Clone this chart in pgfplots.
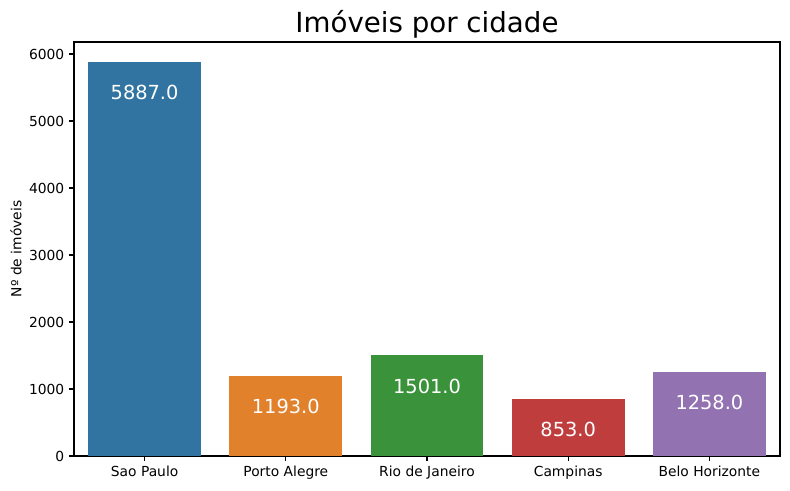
\documentclass[border=0pt]{standalone}
\usepackage{pgfplots}
\pgfplotsset{compat=1.18}
\usepackage{fontspec}
\setmainfont{DejaVu Sans}

\definecolor{sbblue}{HTML}{3274A1}
\definecolor{sborange}{HTML}{E1812C}
\definecolor{sbgreen}{HTML}{3A923A}
\definecolor{sbred}{HTML}{C03D3E}
\definecolor{sbpurple}{HTML}{9372B2}

\begin{document}
\begin{tikzpicture}
\path[use as bounding box] (-53.28bp,-24.48bp) rectangle (515.52bp,328.32bp);
\begin{axis}[
    at={(0,0)}, anchor=south west,
    scale only axis,
    width=508.32bp, height=298.08bp,
    xmin=-0.5, xmax=4.5,
    ymin=0, ymax=6179,
    xtick={0,1,2,3,4},
    xticklabels={Sao Paulo, Porto Alegre, Rio de Janeiro, Campinas, Belo Horizonte},
    ytick={0,1000,2000,3000,4000,5000,6000},
    xtick pos=lower, ytick pos=left,
    tick align=outside,
    major tick length=3.5bp,
    tick style={black, line width=0.8bp},
    axis line style={line width=0.8bp},
    tick label style={font=\fontsize{10}{12}\selectfont},
    /pgf/number format/assume math mode=true,
    /pgf/number format/1000 sep={},
    scaled y ticks=false,
    ylabel={Nº de imóveis},
    ylabel style={font=\fontsize{10}{12}\selectfont},
    every axis y label/.style={at={(axis description cs:-0.0822,0.5)}, rotate=90, anchor=center},
    title={Imóveis por cidade},
    every axis title/.style={font=\fontsize{20}{24}\selectfont, at={(axis description cs:0.5,1)}, anchor=base, yshift=6.5bp},
    ybar, bar width=0.8, bar shift=0pt,
    nodes near coords={\pgfmathprintnumber[fixed,fixed zerofill,precision=1,1000 sep={}]{\pgfplotspointmeta}},
    every node near coord/.append style={anchor=center, yshift=-22.1bp, text=white, font=\fontsize{14}{16}\selectfont},
]
\addplot[fill=sbblue, draw=none] coordinates {(0,5887)};
\addplot[fill=sborange, draw=none] coordinates {(1,1193)};
\addplot[fill=sbgreen, draw=none] coordinates {(2,1501)};
\addplot[fill=sbred, draw=none] coordinates {(3,853)};
\addplot[fill=sbpurple, draw=none] coordinates {(4,1258)};
\end{axis}
\end{tikzpicture}
\end{document}
